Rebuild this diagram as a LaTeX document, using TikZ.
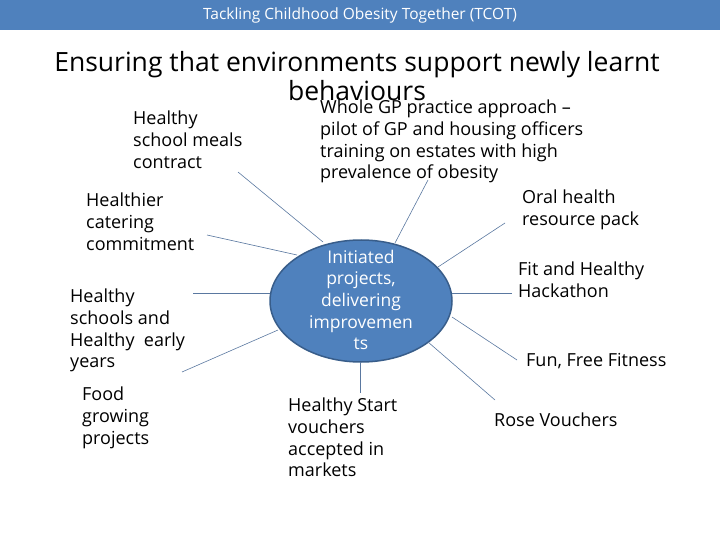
\documentclass[tikz,border=0pt]{standalone}
\usepackage{fontspec}
\usetikzlibrary{shapes.geometric}
\setmainfont{Open Sans}
\begin{document}
\begin{tikzpicture}[x=1pt,y=-1pt,
  lbl/.style={anchor=north west,inner sep=0pt,align=left,font=\fontsize{18}{21.7}\selectfont},
  con/.style={draw={rgb,255:red,90;green,120;blue,160},line width=0.6pt}]
\useasboundingbox (0,0) rectangle (720,540);
\fill[fill={rgb,255:red,79;green,129;blue,189}] (0,0) rectangle (720,30);
\node[text=white,font=\fontsize{15.5}{18}\selectfont] (ban) at (360,15) {Tackling Childhood Obesity Together (TCOT)};
\node[font=\fontsize{26.5}{29}\selectfont,align=center,anchor=north] (title) at (357,48) {Ensuring that environments support newly learnt\\behaviours};
\node[ellipse,draw={rgb,255:red,56;green,93;blue,138},line width=1.5pt,fill={rgb,255:red,79;green,129;blue,189},minimum width=182pt,minimum height=122pt,inner sep=0pt] (e) at (361,301) {};
\node[text=white,align=center,font=\fontsize{17.5}{21.7}\selectfont] (et) at (361,300) {Initiated\\projects,\\delivering\\improvemen\\ts};
\node[lbl] (a) at (133,111) {Healthy\\school meals\\contract};
\node[lbl] (b) at (86,193) {Healthier\\catering\\commitment};
\node[lbl] (c) at (70,289) {Healthy\\schools and\\Healthy~ early\\years};
\node[lbl] (d) at (82,387) {Food\\growing\\projects};
\node[lbl] (f) at (288,398) {Healthy Start\\vouchers\\accepted in\\markets};
\node[lbl] (g) at (320,100) {Whole GP practice approach –\\pilot of GP and housing officers\\training on estates with high\\prevalence of obesity};
\node[lbl] (h) at (522,190) {Oral health\\resource pack};
\node[lbl] (i) at (518,262) {Fit and Healthy\\Hackathon};
\node[lbl] (j) at (526,353) {Fun, Free Fitness};
\node[lbl] (k) at (494,413) {Rose Vouchers};
\coordinate (a1) at (238,172); \coordinate (a2) at (323,242);
\coordinate (b1) at (207,235); \coordinate (b2) at (297,255);
\coordinate (c1) at (193,293); \coordinate (c2) at (270,293);
\coordinate (d1) at (182,372); \coordinate (d2) at (278,330);
\coordinate (f1) at (360,362); \coordinate (f2) at (360,393);
\coordinate (g1) at (395,243); \coordinate (g2) at (428,180);
\coordinate (h1) at (438,267); \coordinate (h2) at (505,223);
\coordinate (i1) at (452,293); \coordinate (i2) at (512,293);
\coordinate (j1) at (452,317); \coordinate (j2) at (517,360);
\coordinate (k1) at (428,342); \coordinate (k2) at (495,400);
\foreach \p in {a,b,c,d,f,g,h,i,j,k} \draw[con] (\p1) -- (\p2);
\end{tikzpicture}
\end{document}
